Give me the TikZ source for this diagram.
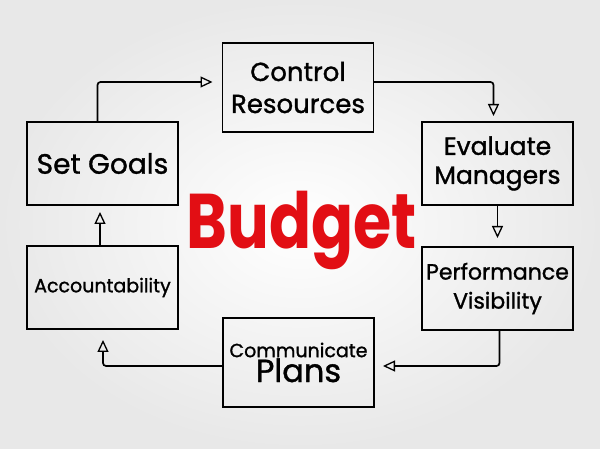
\documentclass[tikz,border=0pt]{standalone}
\usepackage{fontspec}
\setmainfont{Poppins}
\newfontfamily\markfont{Poppins}[FakeBold=1.2]
\usetikzlibrary{positioning, arrows.meta}
\definecolor{budgetred}{RGB}{226,14,20}

\begin{document}
\begin{tikzpicture}[
    x=1pt, y=1pt,
    box/.style={rectangle, draw, line width=1.8pt, minimum width=151pt,
        minimum height=83pt, outer sep=0pt, inner sep=2pt, align=center},
    tallbox/.style={box, minimum height=89pt},
    flow/.style={-{Triangle[open, length=12pt, width=11pt, line width=1.3pt]},
        line width=1.7pt, rounded corners=3pt},
    title/.style={text=budgetred, font=\bfseries\fontsize{62}{62}\selectfont}
]
\useasboundingbox (0,0) rectangle (600,470);

% Background
\fill[white] (0,0) rectangle (600,470);
\shade[inner color=white, outer color=black!9] (0,21) rectangle (600,470);

% Centre title
\node[title] (budget) at (302,240) {\scalebox{1}[1.25]{Budget}};

% Left column
\node[box, font=\markfont\fontsize{28}{30}\selectfont] (goals) at (102.5,306.5) {Set Goals};
\node[box, below=41pt of goals, font=\markfont\fontsize{19}{22}\selectfont] (acc) {Accountability};

% Right column
\node[box, right=244pt of goals, font=\markfont\fontsize{25}{29}\selectfont] (evaluate) {Evaluate\\Managers};
\node[box, below=42pt of evaluate, font=\markfont\fontsize{22}{29}\selectfont] (perf) {Performance\\Visibility};

% Top and bottom
\node[tallbox, font=\markfont\fontsize{26}{32}\selectfont] (control) at (298,382.5) {Control\\Resources};
\node[tallbox, font=\markfont] (comm) at (298.5,107.5)
    {{\fontsize{19}{30}\selectfont Communicate}\\{\fontsize{32}{30}\selectfont Plans}};

% Cycle of arrows
\draw[flow] ([xshift=-5pt]goals.north) |- ([xshift=-10pt, yshift=5.5pt]control.west);
\draw[flow] ([yshift=5.5pt]control.east) -| ([xshift=-4pt, yshift=6pt]evaluate.north);
\draw[flow] (evaluate.south) -- ([yshift=9pt]perf.north);
\draw[flow] ([xshift=2pt]perf.south) |- ([xshift=9pt, yshift=-3.5pt]comm.east);
\draw[flow] ([yshift=-3.5pt]comm.west) -| ([xshift=0.5pt, yshift=-11pt]acc.south);
\draw[flow] ([xshift=-2.5pt]acc.north) -- ([xshift=-2.5pt, yshift=-7pt]goals.south);

\end{tikzpicture}
\end{document}
